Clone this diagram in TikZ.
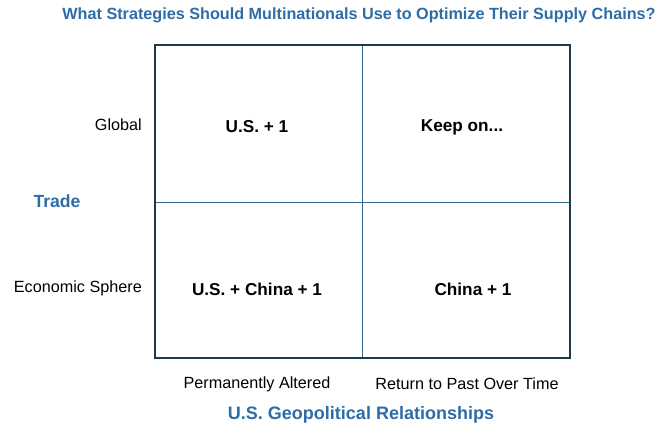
\documentclass[tikz,border=0pt]{standalone}
\usepackage{fontspec}
\setmainfont{Liberation Sans}
\definecolor{ttl}{RGB}{46,108,168}
\definecolor{frame}{RGB}{30,58,74}
\definecolor{inner}{RGB}{52,104,140}
\begin{document}
\begin{tikzpicture}[x=1pt,y=-1pt,
  bluelab/.style={text=ttl,font=\bfseries\fontsize{18}{20}\selectfont,inner sep=0pt},
  axlab/.style={font=\fontsize{16.2}{19}\selectfont,inner sep=0pt},
  cell/.style={font=\bfseries\fontsize{17.2}{20}\selectfont,inner sep=0pt}]
\useasboundingbox (0,0) rectangle (666,439);
\node[bluelab,font=\bfseries\fontsize{16.2}{19}\selectfont] (title) at (359,15) {What Strategies Should Multinationals Use to Optimize Their Supply Chains?};
\coordinate (tl) at (155,45);
\coordinate (br) at (570,358);
\coordinate (tm) at (362,45);
\coordinate (bm) at (362,358);
\coordinate (lm) at (155,202);
\coordinate (rm) at (570,202);
\draw[inner,line width=1pt] (tm) -- (bm);
\draw[inner,line width=1pt] (lm) -- (rm);
\draw[frame,line width=1.4pt] (tl) rectangle (br);
\node[cell] (c1) at (257,127) {U.S. + 1};
\node[cell] (c2) at (462,127) {Keep on...};
\node[cell] (c3) at (257,289) {U.S. + China + 1};
\node[cell] (c4) at (473,289) {China + 1};
\node[axlab,anchor=east] (glob) at (142,125) {Global};
\node[axlab,anchor=east] (econ) at (142,288) {Economic Sphere};
\node[bluelab,font=\bfseries\fontsize{17.6}{20}\selectfont] (trade) at (57,201) {Trade};
\node[axlab] (perm) at (257,384) {Permanently Altered};
\node[axlab] (ret) at (467,384) {Return to Past Over Time};
\node[bluelab] (geo) at (361,415) {U.S. Geopolitical Relationships};
\end{tikzpicture}
\end{document}
